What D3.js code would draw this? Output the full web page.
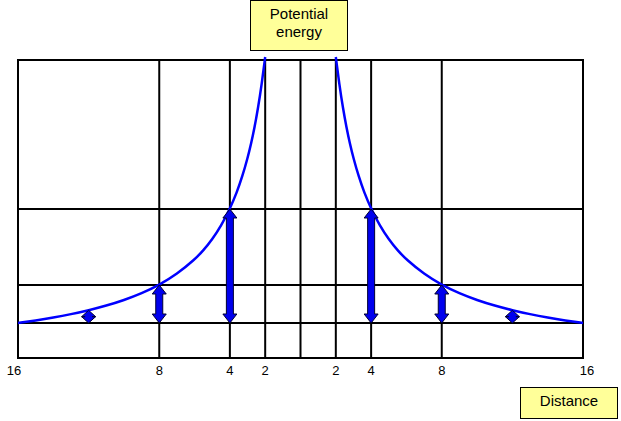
<!DOCTYPE html><html><head><script src="https://cdn.jsdelivr.net/npm/d3@7"></script>
<style>body{margin:0;background:#fff}</style></head><body><svg id="c" width="621" height="421"></svg>
<script>
const gridDistances=[16,8,4,2];
const tickLabels=["16","8","4","2"];
const arrowDistances=[12,8,4];
const hLevels=[1/2.05,1/4,1/8,1/16];
const curveD=[2,2.2,2.4,2.6,2.8,3,3.3,3.6,4,4.5,5,5.5,6,7,8,9,10,11,12,13,14,15,16];
const svg=d3.select("#c");
const x=d3.scaleLinear().domain([-16,16]).range([18,583]);
const y=d3.scaleLinear().domain([1/16,1/2]).range([323,57]);
const yTop=60,yBot=358;
const g=svg.append("g");
// grid
g.append("rect").attr("x",x(-16)).attr("y",yTop).attr("width",x(16)-x(-16)).attr("height",yBot-yTop).attr("fill","none").attr("stroke","#000").attr("stroke-width",2);
const vs=[];gridDistances.forEach(d=>{vs.push(-d,d)});vs.push(0);
g.selectAll(".v").data(vs).join("line").attr("x1",d=>x(d)).attr("x2",d=>x(d)).attr("y1",yTop).attr("y2",yBot).attr("stroke","#000").attr("stroke-width",2);
g.selectAll(".h").data([1/4,1/8,1/16]).join("line").attr("x1",x(-16)).attr("x2",x(16)).attr("y1",d=>y(d)).attr("y2",d=>y(d)).attr("stroke","#000").attr("stroke-width",2);
// ticks
gridDistances.forEach((d,i)=>{[-d,d].forEach(v=>{svg.append("text").attr("x",x(v)+(Math.abs(v)==16?(v<0?-4:4):0)).attr("y",375).attr("text-anchor","middle").attr("font-family","Liberation Sans, Arial").attr("font-size",13).text(tickLabels[i]);});});
// curves
const line=d3.line().x(d=>x(d[0])).y(d=>y(d[1])).curve(d3.curveBasis);
[-1,1].forEach(s=>{g.append("path").attr("d",line(curveD.map(d=>[s*d,1/d]))).attr("fill","none").attr("stroke","#0000ff").attr("stroke-width",2.5);});
// arrows
function arrow(cx,y1,y2){const w=3.5,hw=7,hh=Math.min(9,(y2-y1)/2);
return `M${cx},${y1}L${cx+hw},${y1+hh}L${cx+w},${y1+hh}L${cx+w},${y2-hh}L${cx+hw},${y2-hh}L${cx},${y2}L${cx-hw},${y2-hh}L${cx-w},${y2-hh}L${cx-w},${y1+hh}L${cx-hw},${y1+hh}Z`;}
arrowDistances.forEach(d=>{[-d,d].forEach(v=>{g.append("path").attr("d",arrow(x(v),y(1/d),y(1/16))).attr("fill","#0000ee").attr("stroke","#000033").attr("stroke-width",1);});});
// boxes
function box(bx,by,bw,bh,lines){svg.append("rect").attr("x",bx).attr("y",by).attr("width",bw).attr("height",bh).attr("fill","#ffff99").attr("stroke","#000").attr("stroke-width",1);
lines.forEach((t,i)=>svg.append("text").attr("x",bx+bw/2).attr("y",by+18+i*18).attr("text-anchor","middle").attr("font-family","Liberation Sans, Arial").attr("font-size",15).text(t));}
box(250.5,0.5,97,50,["Potential","energy"]);
box(520.5,387.5,97,31,["Distance"]);
</script></body></html>
